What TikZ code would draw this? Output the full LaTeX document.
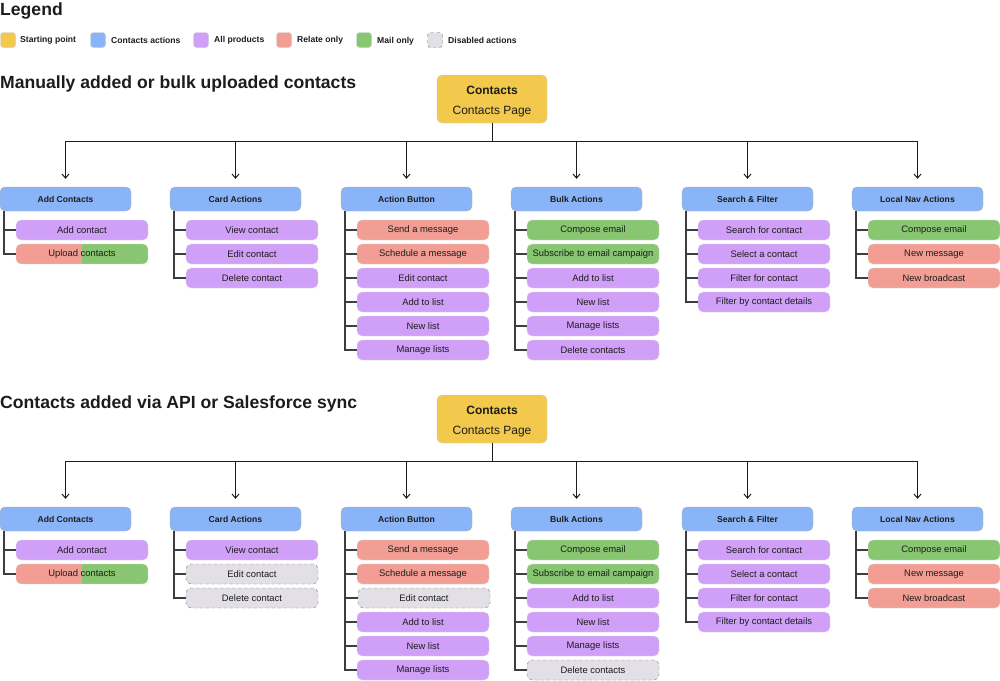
\documentclass[tikz,border=0pt]{standalone}
\usepackage{fontspec}
\setmainfont{Liberation Sans}
\usetikzlibrary{arrows.meta}
\definecolor{startyellow}{HTML}{F2C94C}
\definecolor{catblue}{HTML}{8AB4F8}
\definecolor{allpurple}{HTML}{D09FF7}
\definecolor{relatered}{HTML}{F29E94}
\definecolor{mailgreen}{HTML}{88C672}
\definecolor{offgrey}{HTML}{E2DFE6}
\definecolor{ink}{HTML}{1C1C1C}
\tikzset{
  startbox/.style={draw=black!20,fill=startyellow,rounded corners=5pt,minimum width=110pt,minimum height=48pt,align=center,font=\fontsize{12}{20}\selectfont},
  catbox/.style={draw=black!30,fill=catblue,rounded corners=5pt,minimum width=131pt,minimum height=24pt,inner sep=0pt,font=\bfseries\fontsize{8.6}{10}\selectfont},
  itembox/.style={draw=black!15,rounded corners=5pt,minimum width=132pt,minimum height=20pt,inner sep=0pt,font=\fontsize{9.4}{10}\selectfont},
  allbox/.style={itembox,fill=allpurple},
  relatebox/.style={itembox,fill=relatered},
  mailbox/.style={itembox,fill=mailgreen},
  offbox/.style={itembox,fill=offgrey,draw=black!55,dashed},
  splitbox/.style={itembox,path picture={
      \fill[relatered,sharp corners] (path picture bounding box.south west) rectangle (path picture bounding box.north);
      \fill[mailgreen,sharp corners] (path picture bounding box.south) rectangle (path picture bounding box.north east);}},
  swatch/.style={draw=black!20,rounded corners=3pt,minimum size=15pt,inner sep=0pt},
  legtext/.style={anchor=west,inner sep=0pt,font=\bfseries\fontsize{8.6}{10}\selectfont},
  heading/.style={anchor=west,inner sep=0pt,font=\bfseries\fontsize{17.6}{20}\selectfont},
  bus/.style={draw=ink,line width=1pt},
  tree/.style={draw=ink!85,line width=1.4pt},
}
\begin{document}
\begin{tikzpicture}[x=1pt,y=-1pt,>={Straight Barb[length=4pt,width=7pt]},text=ink]
\useasboundingbox (0,0) rectangle (1000,680);

% legend
\node[heading] (legend) at (0,11) {Legend};
\node[swatch,fill=startyellow] (k1) at (8,40) {};
\node[legtext] (t1) at (20,40) {Starting point};
\node[swatch,fill=catblue] (k2) at (98,40) {};
\node[legtext] (t2) at (111,40) {Contacts actions};
\node[swatch,fill=allpurple] (k3) at (201,40) {};
\node[legtext] (t3) at (214,40) {All products};
\node[swatch,fill=relatered] (k4) at (284,40) {};
\node[legtext] (t4) at (297,40) {Relate only};
\node[swatch,fill=mailgreen] (k5) at (364,40) {};
\node[legtext] (t5) at (377,41) {Mail only};
\node[swatch,fill=offgrey,draw=black!55,dashed] (k6) at (435,40) {};
\node[legtext] (t6) at (448,40) {Disabled actions};

% manually added or bulk uploaded
\node[heading] (h1) at (0,84) {Manually added or bulk uploaded contacts};
\node[startbox] (top1) at (492,99) {\rule{0pt}{14pt}\textbf{Contacts}\\Contacts Page};

\node[catbox] (a1) at (65.5,199) {Add Contacts};
\node[allbox] (a1i1) at (82,230) {Add contact};
\node[splitbox] (a1i2) at (82,254) {Upload contacts};

\node[catbox] (b1) at (235.5,199) {Card Actions};
\node[allbox] (b1i1) at (252,230) {View contact};
\node[allbox] (b1i2) at (252,254) {Edit contact};
\node[allbox] (b1i3) at (252,278) {Delete contact};

\node[catbox] (c1) at (406.5,199) {Action Button};
\node[relatebox] (c1i1) at (423,230) {Send a message};
\node[relatebox] (c1i2) at (423,254) {Schedule a message};
\node[allbox] (c1i3) at (423,278) {Edit contact};
\node[allbox] (c1i4) at (423,302) {Add to list};
\node[allbox] (c1i5) at (423,326) {New list};
\node[allbox] (c1i6) at (423,350) {Manage lists};

\node[catbox] (d1) at (576.5,199) {Bulk Actions};
\node[mailbox] (d1i1) at (593,230) {Compose email};
\node[mailbox] (d1i2) at (593,254) {Subscribe to email campaign};
\node[allbox] (d1i3) at (593,278) {Add to list};
\node[allbox] (d1i4) at (593,302) {New list};
\node[allbox] (d1i5) at (593,326) {Manage lists};
\node[allbox] (d1i6) at (593,350) {Delete contacts};

\node[catbox] (e1) at (747.5,199) {Search \& Filter};
\node[allbox] (e1i1) at (764,230) {Search for contact};
\node[allbox] (e1i2) at (764,254) {Select a contact};
\node[allbox] (e1i3) at (764,278) {Filter for contact};
\node[allbox] (e1i4) at (764,302) {Filter by contact details};

\node[catbox] (f1) at (917.5,199) {Local Nav Actions};
\node[mailbox] (f1i1) at (934,230) {Compose email};
\node[relatebox] (f1i2) at (934,254) {New message};
\node[relatebox] (f1i3) at (934,278) {New broadcast};

\foreach \c in {a1,b1,c1,d1,e1,f1}
  \draw[bus,->,shorten >=8pt] (top1.south) -- ++(0,18) -| (\c.north);
\foreach \c/\i in {a1/a1i1,a1/a1i2,b1/b1i1,b1/b1i2,b1/b1i3,
    c1/c1i1,c1/c1i2,c1/c1i3,c1/c1i4,c1/c1i5,c1/c1i6,
    d1/d1i1,d1/d1i2,d1/d1i3,d1/d1i4,d1/d1i5,d1/d1i6,
    e1/e1i1,e1/e1i2,e1/e1i3,e1/e1i4,f1/f1i1,f1/f1i2,f1/f1i3}
  \draw[tree] ([xshift=4pt]\c.south west) |- (\i.west);

% added via API or Salesforce sync
\node[heading] (h2) at (0,404) {Contacts added via API or Salesforce sync};
\node[startbox] (top2) at (492,419) {\rule{0pt}{14pt}\textbf{Contacts}\\Contacts Page};

\node[catbox] (a2) at (65.5,519) {Add Contacts};
\node[allbox] (a2i1) at (82,550) {Add contact};
\node[splitbox] (a2i2) at (82,574) {Upload contacts};

\node[catbox] (b2) at (235.5,519) {Card Actions};
\node[allbox] (b2i1) at (252,550) {View contact};
\node[offbox] (b2i2) at (252,574) {Edit contact};
\node[offbox] (b2i3) at (252,598) {Delete contact};

\node[catbox] (c2) at (406.5,519) {Action Button};
\node[relatebox] (c2i1) at (423,550) {Send a message};
\node[relatebox] (c2i2) at (423,574) {Schedule a message};
\node[offbox] (c2i3) at (424,598) {Edit contact};
\node[allbox] (c2i4) at (423,622) {Add to list};
\node[allbox] (c2i5) at (423,646) {New list};
\node[allbox] (c2i6) at (423,670) {Manage lists};

\node[catbox] (d2) at (576.5,519) {Bulk Actions};
\node[mailbox] (d2i1) at (593,550) {Compose email};
\node[mailbox] (d2i2) at (593,574) {Subscribe to email campaign};
\node[allbox] (d2i3) at (593,598) {Add to list};
\node[allbox] (d2i4) at (593,622) {New list};
\node[allbox] (d2i5) at (593,646) {Manage lists};
\node[offbox] (d2i6) at (593,670) {Delete contacts};

\node[catbox] (e2) at (747.5,519) {Search \& Filter};
\node[allbox] (e2i1) at (764,550) {Search for contact};
\node[allbox] (e2i2) at (764,574) {Select a contact};
\node[allbox] (e2i3) at (764,598) {Filter for contact};
\node[allbox] (e2i4) at (764,622) {Filter by contact details};

\node[catbox] (f2) at (917.5,519) {Local Nav Actions};
\node[mailbox] (f2i1) at (934,550) {Compose email};
\node[relatebox] (f2i2) at (934,574) {New message};
\node[relatebox] (f2i3) at (934,598) {New broadcast};

\foreach \c in {a2,b2,c2,d2,e2,f2}
  \draw[bus,->,shorten >=8pt] (top2.south) -- ++(0,18) -| (\c.north);
\foreach \c/\i in {a2/a2i1,a2/a2i2,b2/b2i1,b2/b2i2,b2/b2i3,
    c2/c2i1,c2/c2i2,c2/c2i3,c2/c2i4,c2/c2i5,c2/c2i6,
    d2/d2i1,d2/d2i2,d2/d2i3,d2/d2i4,d2/d2i5,d2/d2i6,
    e2/e2i1,e2/e2i2,e2/e2i3,e2/e2i4,f2/f2i1,f2/f2i2,f2/f2i3}
  \draw[tree] ([xshift=4pt]\c.south west) |- (\i.west);
\end{tikzpicture}
\end{document}
